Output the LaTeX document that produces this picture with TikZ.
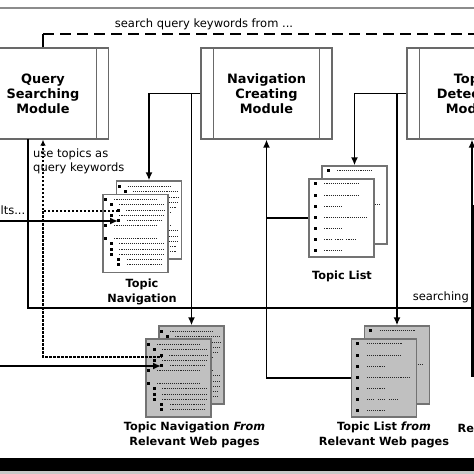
\documentclass[tikz,border=0pt]{standalone}
\usepackage{fontspec}
\setmainfont{DejaVu Sans}
\usetikzlibrary{arrows.meta}
\definecolor{boxgray}{RGB}{105,105,105}
\definecolor{pagegray}{RGB}{115,115,115}
\definecolor{pagefill}{RGB}{192,192,192}
\definecolor{dotgray}{RGB}{40,40,40}
\definecolor{topline}{RGB}{140,140,140}
\definecolor{bandgray}{RGB}{200,200,200}
\tikzset{
  module/.style={draw=boxgray, line width=1.2pt, minimum width=131pt, minimum height=91pt,
    align=center, font=\fontsize{12.9}{15}\selectfont\bfseries, inner sep=0pt},
  modline/.style={draw=boxgray, line width=1.2pt},
  conn/.style={line width=1.8pt, draw=black},
  arr/.style={conn, -{Latex[length=8pt,width=7pt]}},
  page/.style={draw=pagegray, line width=1.3pt, minimum width=65pt, minimum height=78pt, inner sep=0pt},
  wpage/.style={page, fill=white},
  gpage/.style={page, fill=pagefill},
  lbl/.style={font=\fontsize{11.3}{14.5}\selectfont\bfseries, align=center, inner sep=0pt},
  txt/.style={font=\fontsize{11.5}{13.5}\selectfont, inner sep=0pt},
  dotrow/.style={line width=1.2pt, draw=dotgray, dash pattern=on 1.1pt off 1pt},
  dotconn/.style={line width=1.6pt, draw=black, dash pattern=on 2.5pt off 1.5pt},
  dashconn/.style={line width=1.6pt, draw=black, dash pattern=on 11pt off 6pt},
}
% navigation-like page content, #1 = page node name
\newcommand\navcontent[1]{%
  \begin{scope}[shift={(#1.north west)}]
    \foreach \yy/\bb/\ss/\ee in {6/3.5/12/55, 11/9.5/17/62, 17/16/24/62, 22/9.5/17/62,
        27/16.5/25/60, 32/3.5/12/55, 45/3.5/12/55, 50/9.5/17/62, 56/9.5/17/62,
        61/9.5/17/62, 66/16/25/60, 71/16/25/60} {
      \fill[black] (\bb-1.4,\yy-1.4) rectangle (\bb+1.4,\yy+1.4);
      \draw[dotrow] (\ss,\yy) -- (\ee,\yy);
    }
  \end{scope}}
% topic-list-like page content
\newcommand\listcontent[1]{%
  \begin{scope}[shift={(#1.north west)}]
    \foreach \yy/\ee in {5/51, 17/50, 28/34, 39/60, 50/34, 72/34} {
      \fill[black] (7-1.4,\yy-1.4) rectangle (7+1.4,\yy+1.4);
      \draw[dotrow] (16,\yy) -- (\ee,\yy);
    }
    \fill[black] (7-1.4,61-1.4) rectangle (7+1.4,61+1.4);
    \draw[dotrow] (16,61) -- (24,61);
    \draw[dotrow] (27,61) -- (35,61);
    \draw[dotrow] (38,61) -- (47,61);
  \end{scope}}
\begin{document}
\begin{tikzpicture}[x=1pt, y=-1pt]
  \clip (0,0) rectangle (474,474);
  \fill[white] (0,0) rectangle (474,474);

  % top rule
  \draw[topline, line width=1.3pt] (-2,8) -- (476,8);

  % modules
  \node[module] (qsm) at (43,93.5) {Query\\Searching\\Module};
  \node[module] (nav) at (266.5,93.5) {Navigation\\Creating\\Module};
  \node[module] (tdm) at (472.5,93.5) {Topic\\Detecting\\Module};
  \foreach \m in {qsm, nav, tdm} {
    \draw[modline] ([xshift=13pt]\m.north west) -- ([xshift=13pt]\m.south west);
    \draw[modline] ([xshift=-13pt]\m.north east) -- ([xshift=-13pt]\m.south east);
  }

  % pages
  \node[wpage] (tnback) at (149,220) {};
  \navcontent{tnback}
  \node[wpage] (tnfront) at (135.5,233.5) {};
  \navcontent{tnfront}

  \node[gpage] (tnrback) at (191.5,365) {};
  \navcontent{tnrback}
  \node[gpage] (tnrfront) at (178.5,378) {};
  \navcontent{tnrfront}

  \node[wpage] (tlback) at (354.5,205) {};
  \listcontent{tlback}
  \node[wpage] (tlfront) at (341.5,218) {};
  \listcontent{tlfront}

  \node[gpage] (tlrback) at (397,365) {};
  \listcontent{tlrback}
  \node[gpage] (tlrfront) at (384,378) {};
  \listcontent{tlrfront}

  % labels
  \node[lbl] (ltn) at (142,292) {Topic\\Navigation};
  \node[lbl] (ltl) at (342,276) {Topic List};
  \node[lbl] (ltnr) at (194.5,435) {Topic Navigation \textit{From}\\Relevant Web pages};
  \node[lbl] (ltlr) at (384,435) {Topic List \textit{from}\\Relevant Web pages};
  \node[lbl, anchor=west] (lre) at (457.5,428) {Relevant};

  % dashed search query line
  \coordinate (dq) at (43,34);
  \coordinate (dqe) at (480,34);
  \draw[conn] (qsm.north) -- (dq);
  \draw[dashconn] (dq) -- (dqe);
  \node[txt] (tsq) at (204,24) {search query keywords from ...};

  % navigation module -> topic navigation pages
  \draw[arr] (nav.west) -| (tnback.north);
  \draw[arr] (nav.west -| tnrback.north) -- (tnrback.north);

  % topic detecting module -> topic lists
  \draw[arr] (tdm.west) -| (tlback.north);
  \draw[arr] (tdm.west -| tlrback.north) -- (tlrback.north);

  % topic lists -> navigation module
  \draw[conn] (tlfront.west) -- (tlfront.west -| nav.south);
  \draw[arr] (tlrfront.west) -| (nav.south);

  % query searching -> searching results -> topic detecting
  \coordinate (qs0) at (28,139);
  \coordinate (sr) at (472,308);
  \draw[arr] (qs0) |- (sr) -- (sr |- tdm.south);
  \node[txt, anchor=east] (tsr) at (469,297) {searching};
  \fill[black] (471,205) rectangle (476,377);

  % incoming page arrows from the left
  \coordinate (in1) at (-5,221);
  \coordinate (tip1) at (118,221);
  \draw[arr] (in1) -- (tip1);
  \node[txt, anchor=east] (tin) at (25.5,210) {results...};
  \coordinate (in2) at (-5,366);
  \coordinate (tip2) at (161,366);
  \draw[arr] (in2) -- (tip2);

  % dotted: use topics as query keywords
  \coordinate (d1) at (118,211);
  \coordinate (dc) at (43,211);
  \coordinate (d2) at (162,357);
  \draw[dotconn, -{Latex[length=6pt,width=5.5pt]}] (d1) -- (dc) -- (qsm.south);
  \draw[dotconn] (dc) |- (d2);
  \node[txt, anchor=west, align=left] (tuse) at (33,161.5) {use topics as\\query keywords};

  % bottom band
  \fill[black] (-2,458) rectangle (476,471);
  \fill[bandgray] (-2,471) rectangle (476,476);
\end{tikzpicture}
\end{document}
